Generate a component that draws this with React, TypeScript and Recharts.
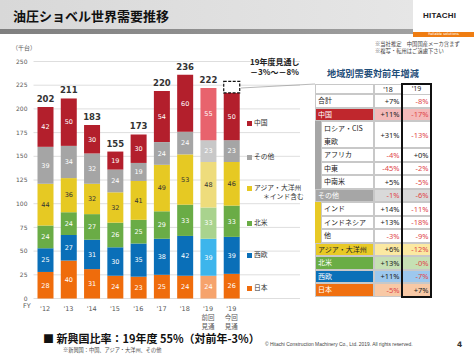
import React from 'react';
import { BarChart, Bar, XAxis, YAxis, CartesianGrid, LabelList, Cell } from 'recharts';

const categories = ["'12", "'13", "'14", "'15", "'16", "'17", "'18", "'19|前回|見通", "'19|今回|見通"];
const japan = [28, 40, 31, 24, 23, 25, 24, 24, 26];
const westEurope = [25, 27, 31, 30, 35, 38, 42, 39, 39];
const northAmerica = [24, 24, 27, 26, 25, 29, 33, 33, 33];
const asiaOceania = [44, 36, 32, 32, 41, 49, 53, 48, 46];
const others = [39, 34, 32, 24, 19, 24, 24, 23, 23];
const china = [42, 50, 30, 19, 30, 54, 60, 55, 50];
const totals = [202, 211, 183, 155, 173, 220, 236, 222, 217];
const forecastRange = [217, 229];
const yTicks = [0, 25, 50, 75, 100, 125, 150, 175, 200, 225, 250];

const legendLabels = ['中国', 'その他', 'アジア・大洋州|＊インド含む', '北米', '西欧', '日本'];

const tableLabels = ['合計', '中国', 'ロシア・CIS|東欧', 'アフリカ', '中東', '中南米', 'その他', 'インド', 'インドネシア', '他', 'アジア・大洋州', '北米', '西欧', '日本'];
const change2018 = ['+7%', '+11%', '+31%', '-4%', '-45%', '+5%', '-1%', '+14%', '+13%', '-3%', '+6%', '+13%', '+11%', '-5%'];
const change2019 = ['-8%', '-17%', '-13%', '+0%', '-2%', '-5%', '-6%', '-11%', '-18%', '-9%', '-12%', '-0%', '-7%', '+7%'];

const FONT = '"DejaVu Sans", "Noto Sans CJK JP", sans-serif';
const JP = '"Noto Sans CJK JP", sans-serif';

const series = [
  { key: 'japan', color: '#ef6c0c', light: '#f6a36c', text: '#ffffff' },
  { key: 'westEurope', color: '#0a6fb8', light: '#3db5ec', text: '#ffffff' },
  { key: 'northAmerica', color: '#6aac46', light: '#a9d38e', text: '#ffffff' },
  { key: 'asiaOceania', color: '#e6c923', light: '#eedc7c', text: '#333333' },
  { key: 'others', color: '#a5a5a5', light: '#c8c8c8', text: '#ffffff' },
  { key: 'china', color: '#b31f2c', light: '#e8636d', text: '#ffffff' },
];

const data = categories.map((c, i) => ({
  cat: c,
  japan: japan[i],
  westEurope: westEurope[i],
  northAmerica: northAmerica[i],
  asiaOceania: asiaOceania[i],
  others: others[i],
  china: china[i],
  range: i === categories.length - 1 ? forecastRange[1] - forecastRange[0] : null,
  total: totals[i],
}));

const legendColors = ['#b31f2c', '#a5a5a5', '#e6c923', '#6aac46', '#0a6fb8', '#ef6c0c'];

const segLabel = (color: string) => (props: any) => {
  const { x, y, width, height, value } = props;
  if (value == null) return null;
  return (
    <text x={x + width / 2} y={y + height / 2} dy={2.3} textAnchor="middle" fill={color}
      fontSize={6.5} fontFamily={FONT}>{value}</text>
  );
};

const totalLabel = (skipLast: boolean) => (props: any) => {
  const { x, y, width, index } = props;
  const last = index === categories.length - 1;
  if (skipLast ? last : !last) return null;
  return (
    <text x={x + width / 2} y={y - 5} textAnchor="middle" fill="#333" fontSize={8.5}
      fontWeight="bold" fontFamily={FONT}>{totals[index]}</text>
  );
};

const XTick = (props: any) => {
  const { x, y, payload } = props;
  const lines = String(payload.value).split('|');
  return (
    <g>
      {lines.map((l, i) => (
        <text key={i} x={x} y={y + 4 + i * 9} textAnchor="middle" fill="#595959" fontSize={6.5}
          fontFamily={i === 0 ? FONT : JP}>{l}</text>
      ))}
    </g>
  );
};

const rowKinds = ['plain', 'china', 'subO', 'subO', 'subO', 'subO', 'other', 'subA', 'subA', 'subA', 'asia', 'na', 'we', 'jp'];
const kindStyle: Record<string, { bg: string; fg: string; val: string }> = {
  plain: { bg: '#ffffff', fg: '#222', val: '#ffffff' },
  china: { bg: '#c0272d', fg: '#fff', val: '#f4b9b9' },
  other: { bg: '#a6a6a6', fg: '#fff', val: '#d9d9d9' },
  asia: { bg: '#e8c925', fg: '#222', val: '#fbe9a2' },
  na: { bg: '#6aad45', fg: '#fff', val: '#c6e0b4' },
  we: { bg: '#0a70b8', fg: '#fff', val: '#9dc8ee' },
  jp: { bg: '#f07010', fg: '#fff', val: '#f8c9a6' },
  subO: { bg: '#ffffff', fg: '#222', val: '#ffffff' },
  subA: { bg: '#ffffff', fg: '#222', val: '#ffffff' },
};

function Table() {
  const x0 = 315, w0 = 59, w1 = 28, w2 = 29;
  const top = 84, headH = 10, rowH = 13.5;
  const rows: any[] = [];
  let y = top + headH;
  tableLabels.forEach((lab, i) => {
    const h = lab.includes('|') ? rowH * 2 : rowH;
    const kind = rowKinds[i];
    const st = kindStyle[kind];
    const sub = kind === 'subO' || kind === 'subA';
    const strip = kind === 'subO' ? '#a6a6a6' : '#e8c925';
    const valColor = (v: string) => (v.startsWith('-') ? '#e04848' : '#222');
    rows.push(
      <React.Fragment key={i}>
        {sub && <div style={{ position: 'absolute', left: x0, top: y, width: 6, height: h, background: strip }} />}
        <div style={{
          position: 'absolute', left: sub ? x0 + 6 : x0, top: y, width: sub ? w0 - 6 : w0, height: h,
          background: st.bg, color: st.fg, boxSizing: 'border-box', border: '0.5px solid #c8c8c8',
          fontSize: 7, fontFamily: JP, paddingLeft: 2, display: 'flex', flexDirection: 'column', justifyContent: 'center', lineHeight: '13px', whiteSpace: 'nowrap',
        }}>
          {lab.split('|').map((l, k) => <div key={k}>{l}</div>)}
        </div>
        {[change2018[i], change2019[i]].map((v, k) => (
          <div key={k} style={{
            position: 'absolute', left: k === 0 ? x0 + w0 : x0 + w0 + w1, top: y, width: k === 0 ? w1 : w2, height: h,
            background: st.val, color: valColor(v), boxSizing: 'border-box', border: '0.5px solid #c8c8c8',
            fontSize: 7.5, fontFamily: '"Noto Sans", sans-serif', textAlign: 'right', paddingRight: 1.5,
            display: 'flex', alignItems: 'center', justifyContent: 'flex-end',
          }}>{v}</div>
        ))}
      </React.Fragment>
    );
    y += h;
  });
  return (
    <>
      <div style={{ position: 'absolute', left: 327, top: 66, fontSize: 9.2, fontWeight: 'bold', color: '#1f4e79', fontFamily: JP, whiteSpace: 'nowrap' }}>地域別需要対前年増減</div>
      <div style={{ position: 'absolute', left: x0, top, width: w0, height: headH, boxSizing: 'border-box', border: '0.5px solid #c8c8c8' }} />
      <div style={{ position: 'absolute', left: x0 + w0, top, width: w1, height: headH, fontSize: 7, fontFamily: '"Noto Sans", sans-serif', textAlign: 'center', lineHeight: '10px', color: '#222', boxSizing: 'border-box', border: '0.5px solid #c8c8c8' }}>'18</div>
      <div style={{ position: 'absolute', left: x0 + w0 + w1, top, width: w2, height: headH, fontSize: 7, fontFamily: '"Noto Sans", sans-serif', textAlign: 'center', lineHeight: '10px', color: '#222' }}>'19</div>
      {rows}
      <div style={{ position: 'absolute', left: x0 + w0 + w1 - 1, top: top - 1, width: w2 + 2, height: y - top + 2, boxSizing: 'border-box', border: '2px solid #111' }} />
    </>
  );
}

export default function App() {
  return (
    <div style={{ position: 'absolute', left: 0, top: 0, width: 474, height: 355, background: '#fff', overflow: 'hidden', fontFamily: JP }}>
      {/* header */}
      <div style={{ position: 'absolute', left: 0, top: 0, width: 413, height: 29, background: 'linear-gradient(90deg,#d8d8d8,#e6e6e6)' }} />
      <div style={{ position: 'absolute', left: 0, top: 29, width: 413, height: 5, background: 'linear-gradient(90deg,#7f7f7f,#a0a0a0)' }} />
      <div style={{ position: 'absolute', left: 413, top: 32, width: 61, height: 5, background: '#ef7d12', color: '#fff', fontSize: 3.5, lineHeight: '5px', textAlign: 'center', fontFamily: FONT }}>Reliable solutions</div>
      <div style={{ position: 'absolute', left: 13, top: 6, fontSize: 13, fontWeight: 'bold', color: '#111', fontFamily: JP, whiteSpace: 'nowrap' }}>油圧ショベル世界需要推移</div>
      <div style={{ position: 'absolute', left: 423, top: 11, fontSize: 8, fontWeight: 'bold', color: '#222', fontFamily: '"Liberation Sans", sans-serif', letterSpacing: 0.2 }}>HITACHI</div>
      <div style={{ position: 'absolute', left: 375, top: 41, fontSize: 5.3, color: '#444', fontFamily: JP, lineHeight: '6.5px', whiteSpace: 'nowrap' }}>
        <div>※当社推定　中国国産メーカ含まず</div>
        <div>※複写・転用はご遠慮下さい</div>
      </div>
      <div style={{ position: 'absolute', left: 12, top: 43, fontSize: 6, color: '#595959', fontFamily: JP }}>（千台）</div>

      <div style={{ position: 'absolute', left: 0, top: 0 }}>
        <BarChart width={474} height={355} data={data} margin={{ top: 61.5, right: 174, bottom: 26.5, left: 0 }} barSize={16}>
          <CartesianGrid vertical={false} stroke="#dedede" />
          <YAxis domain={[0, 250]} ticks={yTicks} width={33.5} tickSize={4} tickMargin={2} axisLine={false} tickLine={false}
            tick={{ fontSize: 6, fill: '#595959', fontFamily: FONT }} interval={0} />
          <XAxis dataKey="cat" height={30} axisLine={false} tickLine={false} tick={<XTick />} interval={0}
            padding={{ left: 0, right: 57 }} />
          {series.map((s) => (
            <Bar key={s.key} dataKey={s.key} stackId="a" fill={s.color} isAnimationActive={false}>
              {data.map((_, i) => <Cell key={i} fill={i === 7 ? s.light : s.color} />)}
              <LabelList dataKey={s.key} content={segLabel(s.text)} />
              {s.key === 'china' && <LabelList dataKey="total" content={totalLabel(true)} />}
            </Bar>
          ))}
          <Bar dataKey="range" stackId="a" fill="#ffffff" stroke="#111" strokeWidth={1.2} strokeDasharray="3 1.5" isAnimationActive={false}>
            <LabelList dataKey="total" content={totalLabel(false)} />
          </Bar>
        </BarChart>
      </div>

      <div style={{ position: 'absolute', left: 23, top: 302, fontSize: 6.5, color: '#595959', fontFamily: FONT }}>FY</div>

      {/* callout & annotation */}
      <svg style={{ position: 'absolute', left: 0, top: 0 }} width={474} height={355}>
        <line x1={241} y1={88} x2={315} y2={84} stroke="#888" strokeWidth={0.6} />
      </svg>
      <div style={{ position: 'absolute', left: 250, top: 57, fontSize: 8, fontWeight: 'bold', color: '#222', fontFamily: JP, lineHeight: '10px', whiteSpace: 'nowrap' }}>
        <div>19年度見通し</div>
        <div>－3%～－8%</div>
      </div>

      {/* legend */}
      {legendLabels.map((l, i) => {
        const ys = [123, 157, 188, 223, 255, 288];
        const parts = l.split('|');
        return (
          <React.Fragment key={i}>
            <div style={{ position: 'absolute', left: 247, top: ys[i] - 2.5, width: 5, height: 5, background: legendColors[i] }} />
            <div style={{ position: 'absolute', left: 254, top: ys[i] - 5, fontSize: 6.8, color: '#333', fontFamily: JP, lineHeight: '9px', whiteSpace: 'nowrap' }}>
              <div>{parts[0]}</div>
              {parts[1] && <div style={{ paddingLeft: 9 }}>{parts[1]}</div>}
            </div>
          </React.Fragment>
        );
      })}

      <Table />

      {/* footer */}
      <div style={{ position: 'absolute', left: 43, top: 333, fontSize: 11, lineHeight: '11px', fontWeight: 'bold', color: '#111', fontFamily: JP, whiteSpace: 'nowrap' }}>■ 新興国比率：19年度 55%（対前年-3%）</div>
      <div style={{ position: 'absolute', left: 63, top: 346.5, fontSize: 5.2, lineHeight: '6px', color: '#444', fontFamily: JP, whiteSpace: 'nowrap' }}>※新興国：中国、アジア・大洋州、その他</div>
      <div style={{ position: 'absolute', left: 265, top: 342, fontSize: 4.9, lineHeight: '6px', color: '#444', fontFamily: '"Liberation Sans", sans-serif', whiteSpace: 'nowrap' }}>© Hitachi Construction Machinery Co., Ltd. 2019. All rights reserved.</div>
      <div style={{ position: 'absolute', left: 457, top: 340, fontSize: 7.5, lineHeight: '9px', fontWeight: 'bold', color: '#333', fontFamily: FONT }}>4</div>
    </div>
  );
}
